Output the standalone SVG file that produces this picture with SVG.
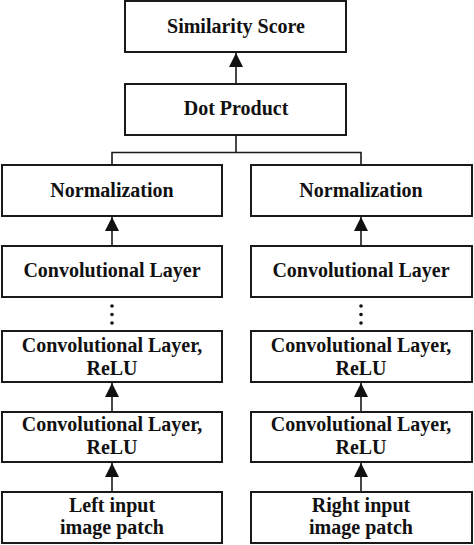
<svg xmlns="http://www.w3.org/2000/svg" width="474" height="545" viewBox="0 0 474 545">
<defs>
<style>
.box{fill:#fff;stroke:#1a1a1a;stroke-width:2}
.t{font-family:'Liberation Serif','Times New Roman',Times,Tinos,'Nimbus Roman','Nimbus Roman No9 L','Noto Serif','DejaVu Serif',FreeSerif,serif;font-weight:700;font-size:20px;fill:#111;text-anchor:middle}
.ln{fill:none;stroke:#1a1a1a;stroke-width:1.6}
.dot{fill:#111}
</style>
<marker id="ah" viewBox="0 0 10 10" refX="10" refY="5" markerWidth="15" markerHeight="14" markerUnits="userSpaceOnUse" orient="auto">
<path d="M0,0 L10,5 L0,10 Z" fill="#111"/>
</marker>
</defs>
<rect width="474" height="545" fill="#fff"/>
<g id="connectors">
<line class="ln" x1="236" y1="83" x2="236" y2="53" marker-end="url(#ah)"/>
<polyline class="ln" points="236,135 236,152.5"/>
<polyline class="ln" points="112,165 112,152.5 361,152.5 361,165"/>
<line class="ln" x1="112" y1="246" x2="112" y2="217" marker-end="url(#ah)"/>
<line class="ln" x1="361" y1="246" x2="361" y2="217" marker-end="url(#ah)"/>
<line class="ln" x1="112" y1="412" x2="112" y2="383" marker-end="url(#ah)"/>
<line class="ln" x1="361" y1="412" x2="361" y2="383" marker-end="url(#ah)"/>
<line class="ln" x1="112" y1="492" x2="112" y2="463" marker-end="url(#ah)"/>
<line class="ln" x1="361" y1="492" x2="361" y2="463" marker-end="url(#ah)"/>
<circle class="dot" cx="112" cy="306" r="1.8"/>
<circle class="dot" cx="112" cy="314.5" r="1.8"/>
<circle class="dot" cx="112" cy="323" r="1.8"/>
<circle class="dot" cx="361" cy="306" r="1.8"/>
<circle class="dot" cx="361" cy="314.5" r="1.8"/>
<circle class="dot" cx="361" cy="323" r="1.8"/>
</g>
<g id="similarity">
<rect class="box" x="125" y="1" width="221" height="51"/>
<text class="t" x="236" y="33">Similarity Score</text>
</g>
<g id="dotproduct">
<rect class="box" x="125" y="84" width="221" height="51"/>
<text class="t" x="236" y="115">Dot Product</text>
</g>
<g id="norm-left">
<rect class="box" x="2" y="165" width="220" height="51"/>
<text class="t" x="112" y="197">Normalization</text>
</g>
<g id="norm-right">
<rect class="box" x="251" y="165" width="221" height="51"/>
<text class="t" x="361" y="197">Normalization</text>
</g>
<g id="conv-left">
<rect class="box" x="2" y="246" width="220" height="51"/>
<text class="t" x="112" y="277">Convolutional Layer</text>
</g>
<g id="conv-right">
<rect class="box" x="251" y="246" width="221" height="51"/>
<text class="t" x="361" y="277">Convolutional Layer</text>
</g>
<g id="convrelu2-left">
<rect class="box" x="2" y="331" width="220" height="51"/>
<text class="t" x="112" y="352">Convolutional Layer,</text>
<text class="t" x="112" y="375">ReLU</text>
</g>
<g id="convrelu2-right">
<rect class="box" x="251" y="331" width="221" height="51"/>
<text class="t" x="361" y="352">Convolutional Layer,</text>
<text class="t" x="361" y="375">ReLU</text>
</g>
<g id="convrelu1-left">
<rect class="box" x="2" y="412" width="220" height="50"/>
<text class="t" x="112" y="431">Convolutional Layer,</text>
<text class="t" x="112" y="454">ReLU</text>
</g>
<g id="convrelu1-right">
<rect class="box" x="251" y="412" width="221" height="50"/>
<text class="t" x="361" y="431">Convolutional Layer,</text>
<text class="t" x="361" y="454">ReLU</text>
</g>
<g id="input-left">
<rect class="box" x="2" y="492" width="220" height="51"/>
<text class="t" x="112" y="512">Left input</text>
<text class="t" x="112" y="534">image patch</text>
</g>
<g id="input-right">
<rect class="box" x="251" y="492" width="221" height="51"/>
<text class="t" x="361" y="512">Right input</text>
<text class="t" x="361" y="534">image patch</text>
</g>
</svg>
